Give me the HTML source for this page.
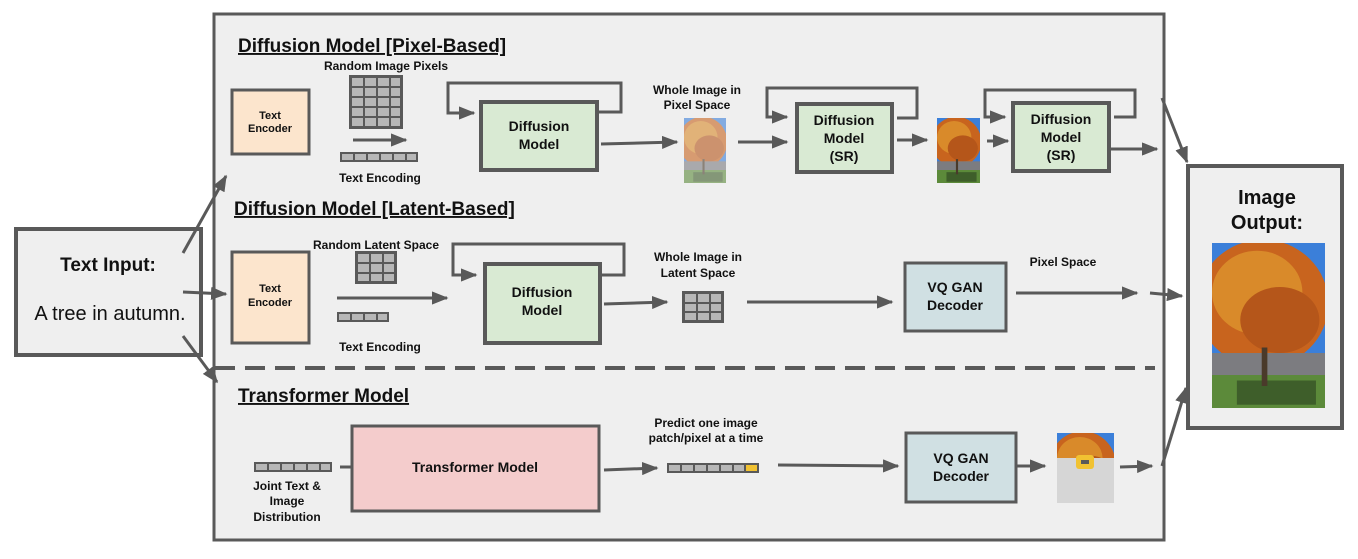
<!DOCTYPE html>
<html><head><meta charset="utf-8"><style>
html,body{margin:0;padding:0;background:#fff;}
text{font-family:"Liberation Sans",Arial,sans-serif;font-weight:bold;fill:#111;}
</style></head><body>
<svg width="1358" height="554" viewBox="0 0 1358 554" xmlns="http://www.w3.org/2000/svg">
<defs>
<marker id="ar" markerWidth="5.5" markerHeight="4.4" refX="5" refY="2.2" orient="auto" markerUnits="strokeWidth">
<path d="M0,0 L5.5,2.2 L0,4.4 z" fill="#595959"/></marker>
<symbol id="tree" viewBox="0 0 100 150" preserveAspectRatio="none">
<rect width="100" height="150" fill="#3b7fd9"/>
<ellipse cx="45" cy="55" rx="58" ry="58" fill="#c8641e"/>
<ellipse cx="40" cy="45" rx="40" ry="38" fill="#d98a2a"/>
<ellipse cx="60" cy="70" rx="35" ry="30" fill="#b5561a"/>
<rect x="0" y="100" width="100" height="20" fill="#7c7c80"/>
<rect x="0" y="120" width="100" height="30" fill="#5c8a3a"/>
<rect x="22" y="125" width="70" height="22" fill="#3e5e2a"/>
<rect x="44" y="95" width="5" height="35" fill="#4a3a2a"/>
</symbol>
</defs>
<g stroke="#595959" fill="none">
<rect x="214" y="14" width="950" height="526" fill="#efefef" stroke-width="3"/>
<rect x="16" y="229" width="185" height="126" fill="#efefef" stroke-width="4"/>
<rect x="1188" y="166" width="154" height="262" fill="#efefef" stroke-width="4"/>
<line x1="215" y1="368" x2="1155" y2="368" stroke-width="4" stroke-dasharray="20,10"/>
</g>
<use href="#tree" x="1212" y="243" width="113" height="165"/>

<text x="238" y="52" font-size="19" text-decoration="underline">Diffusion Model [Pixel-Based]</text>
<text x="234" y="215" font-size="19" text-decoration="underline">Diffusion Model [Latent-Based]</text>
<text x="238" y="402" font-size="19" text-decoration="underline">Transformer Model</text>

<text x="108" y="271" font-size="19" text-anchor="middle">Text Input:</text>
<text x="110" y="320" font-size="20" text-anchor="middle" style="font-weight:normal">A tree in autumn.</text>
<text x="1267" y="204" font-size="20" text-anchor="middle">Image</text>
<text x="1267" y="229" font-size="20" text-anchor="middle">Output:</text>

<g stroke="#595959" stroke-width="3" fill="none" marker-end="url(#ar)">
<line x1="183" y1="253" x2="226" y2="176"/>
<line x1="183" y1="292" x2="226" y2="294"/>
<line x1="183" y1="336" x2="217" y2="382"/>
<line x1="1162" y1="98" x2="1187" y2="162"/>
<line x1="1150" y1="293" x2="1182" y2="296"/>
<line x1="1162" y1="466" x2="1186" y2="388"/>
<line x1="353" y1="140" x2="406" y2="140"/>
<polyline points="597,112 621,112 621,83 448,83 448,113 474,113"/>
<line x1="601" y1="144" x2="677" y2="142"/>
<line x1="738" y1="142" x2="787" y2="142"/>
<polyline points="897,118 917,118 917,88 767,88 767,117 787,117"/>
<line x1="897" y1="140" x2="927" y2="140"/>
<line x1="987" y1="141" x2="1008" y2="141"/>
<polyline points="1114,117 1135,117 1135,90 985,90 985,117 1005,117"/>
<line x1="1111" y1="149" x2="1157" y2="149"/>
<line x1="337" y1="298" x2="447" y2="298"/>
<polyline points="600,275 624,275 624,244 453,244 453,275 476,275"/>
<line x1="604" y1="304" x2="667" y2="302"/>
<line x1="747" y1="302" x2="892" y2="302"/>
<line x1="1016" y1="293" x2="1137" y2="293"/>
<line x1="340" y1="467" x2="370" y2="467"/>
<line x1="604" y1="470" x2="657" y2="468"/>
<line x1="778" y1="465" x2="898" y2="466"/>
<line x1="1017" y1="466" x2="1045" y2="466"/>
<line x1="1120" y1="467" x2="1152" y2="466"/>
</g>

<g stroke="#595959">
<rect x="232" y="90" width="77" height="64" fill="#fce5cd" stroke-width="3"/>
<rect x="481" y="102" width="116" height="68" fill="#d9ead3" stroke-width="4"/>
<rect x="797" y="104" width="95" height="68" fill="#d9ead3" stroke-width="4"/>
<rect x="1013" y="103" width="96" height="68" fill="#d9ead3" stroke-width="4"/>
<rect x="232" y="252" width="77" height="91" fill="#fce5cd" stroke-width="3"/>
<rect x="485" y="264" width="115" height="79" fill="#d9ead3" stroke-width="4"/>
<rect x="905" y="263" width="101" height="68" fill="#d0e0e3" stroke-width="3"/>
<rect x="352" y="426" width="247" height="85" fill="#f4cccc" stroke-width="3"/>
<rect x="906" y="433" width="110" height="69" fill="#d0e0e3" stroke-width="3"/>
</g>
<text x="270" y="119" font-size="11" text-anchor="middle">Text</text>
<text x="270" y="132" font-size="11" text-anchor="middle">Encoder</text>
<text x="539" y="131" font-size="14" text-anchor="middle">Diffusion</text>
<text x="539" y="149" font-size="14" text-anchor="middle">Model</text>
<text x="844" y="125" font-size="14" text-anchor="middle">Diffusion</text>
<text x="844" y="143" font-size="14" text-anchor="middle">Model</text>
<text x="844" y="161" font-size="14" text-anchor="middle">(SR)</text>
<text x="1061" y="124" font-size="14" text-anchor="middle">Diffusion</text>
<text x="1061" y="142" font-size="14" text-anchor="middle">Model</text>
<text x="1061" y="160" font-size="14" text-anchor="middle">(SR)</text>
<text x="270" y="292" font-size="11" text-anchor="middle">Text</text>
<text x="270" y="306" font-size="11" text-anchor="middle">Encoder</text>
<text x="542" y="297" font-size="14" text-anchor="middle">Diffusion</text>
<text x="542" y="315" font-size="14" text-anchor="middle">Model</text>
<text x="955" y="292" font-size="14" text-anchor="middle">VQ GAN</text>
<text x="955" y="310" font-size="14" text-anchor="middle">Decoder</text>
<text x="475" y="472" font-size="14" text-anchor="middle">Transformer Model</text>
<text x="961" y="463" font-size="14" text-anchor="middle">VQ GAN</text>
<text x="961" y="481" font-size="14" text-anchor="middle">Decoder</text>

<text x="386" y="70" text-anchor="middle" font-size="12">Random Image Pixels</text>
<text x="380" y="182" text-anchor="middle" font-size="12">Text Encoding</text>
<text x="697" y="94" text-anchor="middle" font-size="12">Whole Image in</text>
<text x="697" y="109" text-anchor="middle" font-size="12">Pixel Space</text>
<text x="376" y="249" text-anchor="middle" font-size="12">Random Latent Space</text>
<text x="380" y="351" text-anchor="middle" font-size="12">Text Encoding</text>
<text x="698" y="261" text-anchor="middle" font-size="12">Whole Image in</text>
<text x="698" y="277" text-anchor="middle" font-size="12">Latent Space</text>
<text x="1063" y="266" text-anchor="middle" font-size="12">Pixel Space</text>
<text x="706" y="427" text-anchor="middle" font-size="12">Predict one image</text>
<text x="706" y="442" text-anchor="middle" font-size="12">patch/pixel at a time</text>
<text x="287" y="490" text-anchor="middle" font-size="12">Joint Text &amp;</text>
<text x="287" y="505" text-anchor="middle" font-size="12">Image</text>
<text x="287" y="521" text-anchor="middle" font-size="12">Distribution</text>

<g stroke="#595959" stroke-width="2">
<rect x="350" y="76" width="52" height="52" fill="#595959"/>
<rect x="356" y="252" width="40" height="31" fill="#595959"/>
<rect x="683" y="292" width="40" height="30" fill="#595959"/>
</g>
<g fill="#b7b7b7">
<rect x="352" y="78" width="11" height="8"/><rect x="365" y="78" width="11" height="8"/><rect x="378" y="78" width="11" height="8"/><rect x="391" y="78" width="9" height="8"/>
<rect x="352" y="88" width="11" height="8"/><rect x="365" y="88" width="11" height="8"/><rect x="378" y="88" width="11" height="8"/><rect x="391" y="88" width="9" height="8"/>
<rect x="352" y="98" width="11" height="8"/><rect x="365" y="98" width="11" height="8"/><rect x="378" y="98" width="11" height="8"/><rect x="391" y="98" width="9" height="8"/>
<rect x="352" y="108" width="11" height="8"/><rect x="365" y="108" width="11" height="8"/><rect x="378" y="108" width="11" height="8"/><rect x="391" y="108" width="9" height="8"/>
<rect x="352" y="118" width="11" height="8"/><rect x="365" y="118" width="11" height="8"/><rect x="378" y="118" width="11" height="8"/><rect x="391" y="118" width="9" height="8"/>
<rect x="358" y="254" width="11" height="8"/><rect x="371" y="254" width="11" height="8"/><rect x="384" y="254" width="10" height="8"/>
<rect x="358" y="264" width="11" height="8"/><rect x="371" y="264" width="11" height="8"/><rect x="384" y="264" width="10" height="8"/>
<rect x="358" y="274" width="11" height="7"/><rect x="371" y="274" width="11" height="7"/><rect x="384" y="274" width="10" height="7"/>
<rect x="685" y="294" width="11" height="8"/><rect x="698" y="294" width="11" height="8"/><rect x="711" y="294" width="10" height="8"/>
<rect x="685" y="304" width="11" height="7"/><rect x="698" y="304" width="11" height="7"/><rect x="711" y="304" width="10" height="7"/>
<rect x="685" y="313" width="11" height="7"/><rect x="698" y="313" width="11" height="7"/><rect x="711" y="313" width="10" height="7"/>
</g>
<rect x="340" y="152" width="78" height="10" fill="#595959"/>
<rect x="337" y="312" width="52" height="10" fill="#595959"/>
<rect x="254" y="462" width="78" height="10" fill="#595959"/>
<rect x="667" y="463" width="92" height="10" fill="#595959"/>
<g fill="#b7b7b7">
<rect x="342" y="154" width="11" height="6"/><rect x="355" y="154" width="11" height="6"/><rect x="368" y="154" width="11" height="6"/><rect x="381" y="154" width="11" height="6"/><rect x="394" y="154" width="11" height="6"/><rect x="407" y="154" width="9" height="6"/>
<rect x="339" y="314" width="11" height="6"/><rect x="352" y="314" width="11" height="6"/><rect x="365" y="314" width="11" height="6"/><rect x="378" y="314" width="9" height="6"/>
<rect x="256" y="464" width="11" height="6"/><rect x="269" y="464" width="11" height="6"/><rect x="282" y="464" width="11" height="6"/><rect x="295" y="464" width="11" height="6"/><rect x="308" y="464" width="11" height="6"/><rect x="321" y="464" width="9" height="6"/>
<rect x="669" y="465" width="11" height="6"/><rect x="682" y="465" width="11" height="6"/><rect x="695" y="465" width="11" height="6"/><rect x="708" y="465" width="11" height="6"/><rect x="721" y="465" width="11" height="6"/><rect x="734" y="465" width="10" height="6"/>
<rect x="746" y="465" width="11" height="6" fill="#f1c232"/>
</g>
<use href="#tree" x="684" y="118" width="42" height="65" opacity="0.6"/>
<use href="#tree" x="937" y="118" width="43" height="65"/>
<rect x="1057" y="433" width="57" height="70" fill="#d9d9d9"/>
<svg x="1057" y="433" width="57" height="25" viewBox="0 0 100 44" preserveAspectRatio="none"><use href="#tree" x="0" y="0" width="100" height="150"/></svg>
<rect x="1057" y="458" width="57" height="45" fill="#d6d6d6"/>
<rect x="1076" y="455" width="18" height="14" rx="3" fill="#f1c232"/>
<rect x="1081" y="460" width="8" height="4" fill="#595959"/>
</svg>
</body></html>
